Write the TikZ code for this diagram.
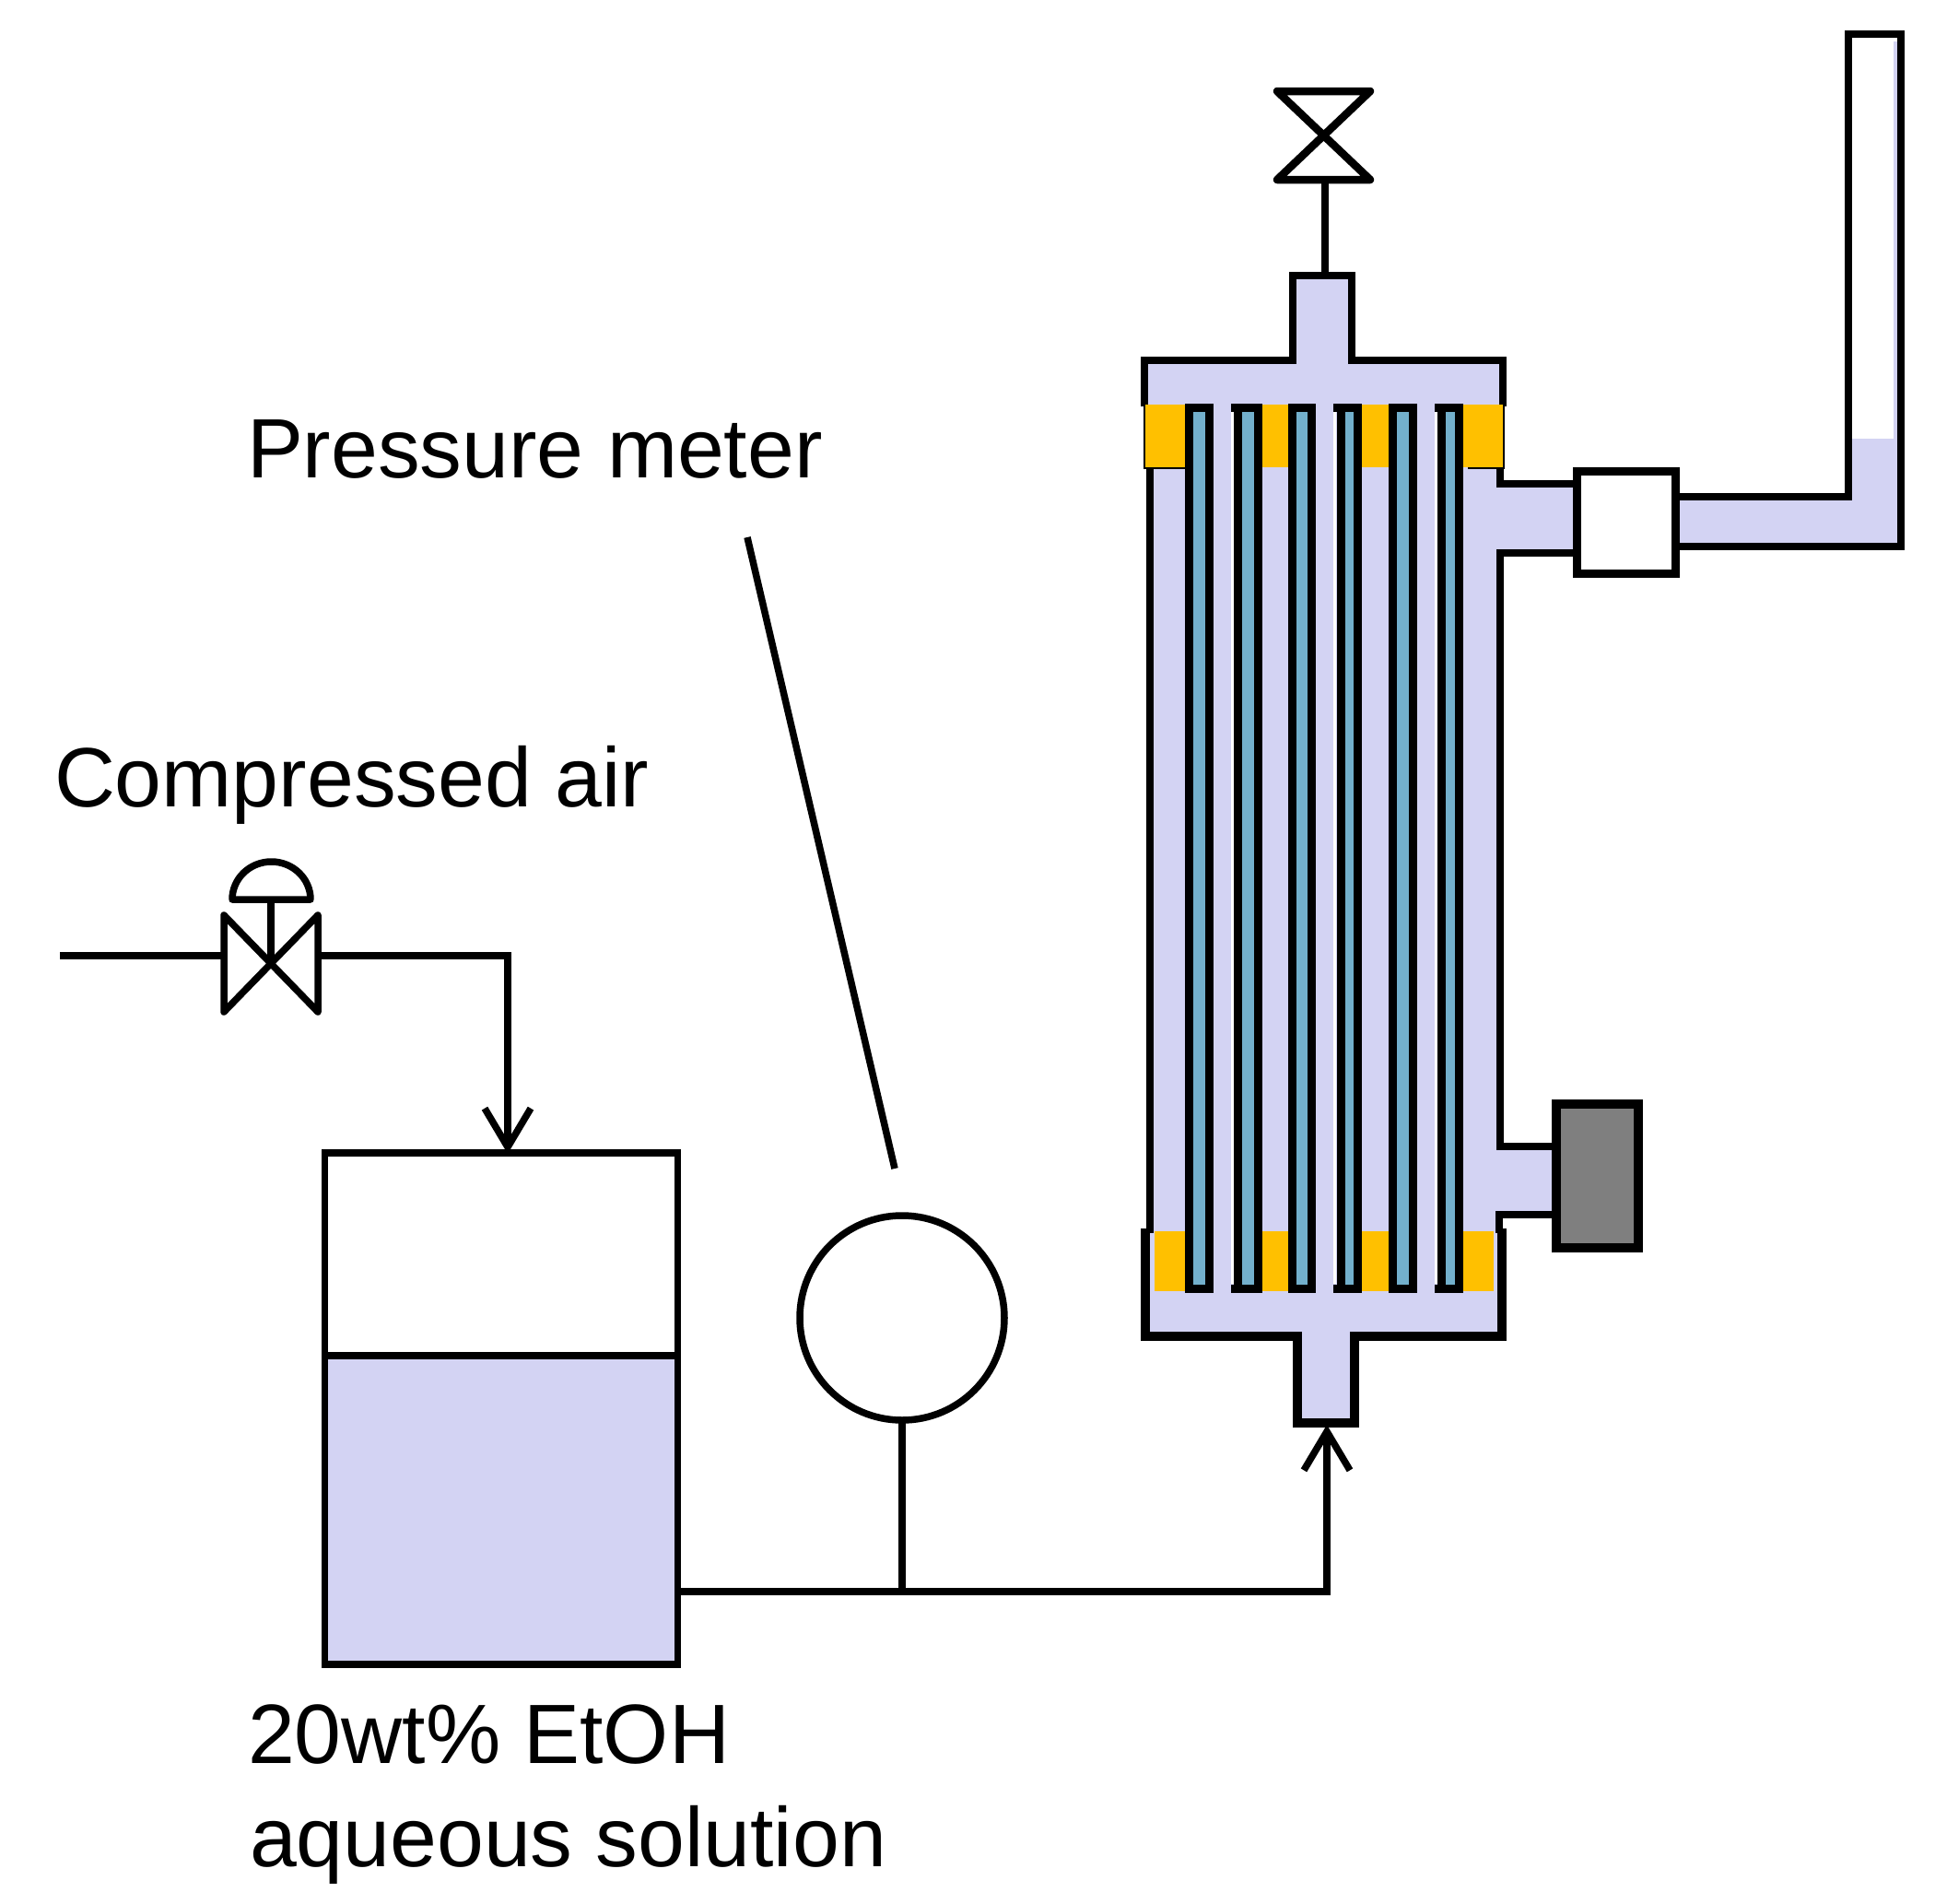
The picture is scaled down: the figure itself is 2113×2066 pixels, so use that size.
\documentclass[tikz,border=0pt]{standalone}
\usepackage{fontspec}
\setmainfont{Liberation Sans}
\usetikzlibrary{arrows.meta,calc}
\definecolor{liq}{HTML}{D3D3F3}
\definecolor{tubeblue}{HTML}{73B0CC}
\definecolor{seal}{HTML}{FFC000}
\definecolor{plug}{HTML}{7F7F7F}
\tikzset{
  x=1pt,y=-1pt,
  wall/.style={draw=black,line width=8.5pt,line join=miter,line cap=butt},
  pipe/.style={draw=black,line width=7.5pt,line join=miter},
  flow/.style={pipe,-{Straight Barb[length=42pt,width=50pt,line width=7.5pt]}},
  label/.style={anchor=base west,inner sep=0pt,outer sep=0pt,font=\fontsize{91.4}{91.4}\selectfont,text=black},
  box/.style={draw=black,line width=8.5pt,inner sep=0pt,outer sep=0pt,anchor=center},
}
\newcommand{\tube}[2]{%
  \fill[tubeblue] (#1,442) rectangle (#2,1398);
  \draw[line width=9pt,draw=black,line join=miter] (#1,1398) -- (#1,442) -- (#2,442) -- (#2,1398) -- cycle;
}
\begin{document}
\begin{tikzpicture}
\useasboundingbox (0,0) rectangle (2113,2066);
\begin{scope}[xshift=-3pt]
% membrane module body
\fill[liq] (1245,391) -- (1406,391) -- (1406,299) -- (1470,299) -- (1470,391) -- (1634,391) -- (1634,505) -- (1631,505) -- (1631,525) -- (1716,525) -- (1716,600) -- (1631,600) -- (1631,1244) -- (1696,1244) -- (1696,1318) -- (1630,1318) -- (1630,1336) -- (1633,1336) -- (1633,1450) -- (1473,1450) -- (1473,1544) -- (1411,1544) -- (1411,1450) -- (1246,1450) -- (1246,1336) -- (1251,1336) -- (1251,505) -- (1245,505) -- cycle;
% white slits
\fill[white] (1339,446) rectangle (1341.5,1393);
\fill[white] (1450,446) rectangle (1452.5,1393);
\fill[white] (1560,446) rectangle (1562.5,1393);
% module walls
\draw[wall] (1245,441) -- (1245,391) -- (1406,391) -- (1406,299) -- (1470,299) -- (1470,391) -- (1634,391) -- (1634,441);
\draw[wall] (1251,505) -- (1251,1338);
\draw[wall] (1631,505) -- (1631,525) -- (1720,525);
\draw[wall] (1720,600) -- (1631,600) -- (1631,1244) -- (1696,1244);
\draw[wall] (1696,1318) -- (1630,1318) -- (1630,1338);
\draw[wall,line width=9.5pt] (1246,1333) -- (1246,1450) -- (1411,1450) -- (1411,1544) -- (1473,1544) -- (1473,1450) -- (1633,1450) -- (1633,1333);
% sealing
\fill[black] (1243.5,439) rectangle (1289,509);
\fill[black] (1596,439) rectangle (1636,509);
\fill[seal] (1245.5,439) rectangle (1289,507);
\fill[seal] (1373,439) rectangle (1401,507);
\fill[seal] (1481,439) rectangle (1510,507);
\fill[seal] (1591,439) rectangle (1634,507);
\fill[seal] (1256,1336) rectangle (1289,1401);
\fill[seal] (1373,1336) rectangle (1401,1401);
\fill[seal] (1481,1336) rectangle (1510,1401);
\fill[seal] (1591,1336) rectangle (1624,1401);
% tubes
\tube{1293.5}{1315.5}
\tube{1346.5}{1368.5}
\tube{1405.5}{1426.5}
\tube{1458.5}{1476.5}
\tube{1514.5}{1536.5}
\tube{1567.5}{1586.5}
% caps that stand out on the left
\fill[black] (1339,437.5) rectangle (1346,446.5);
\fill[black] (1450,437.5) rectangle (1458,446.5);
\fill[black] (1560,437.5) rectangle (1567,446.5);
\fill[black] (1339,1393.5) rectangle (1346,1402.5);
\fill[black] (1450,1393.5) rectangle (1458,1402.5);
\fill[black] (1560,1393.5) rectangle (1567,1402.5);
% manometer
\fill[liq] (1815,539) rectangle (2009,593);
\fill[liq] (2005,476) rectangle (2066,593);
\fill[liq] (2058,45) rectangle (2062,476);
\draw[wall] (1815,539) -- (2009,539) -- (2009,37) -- (2066,37) -- (2066,593) -- (1815,593);
% instruments
\node[box,fill=white,minimum width=107pt,minimum height=111pt] (coupling) at (1768,567) {};
\node[box,fill=plug,line width=10pt,minimum width=89pt,minimum height=156pt] (plugbox) at (1736.5,1276) {};
% top valve
\coordinate (vtopb) at (1441,195);
\coordinate (necktop) at (1441,295);
\draw[wall,line join=round] (1389,99) -- (1490,99) -- (1389,195) -- (1490,195) -- cycle;
\draw[pipe] (vtopb) -- (necktop);
\end{scope}
% feed tank
\fill[liq] (352.5,1471) rectangle (735.5,1806);
\node[box,line width=7.5pt,minimum width=383pt,minimum height=555pt] (tank) at (544,1528.5) {};
\coordinate (tankliq) at (352.5,1471);
\draw[line width=7.5pt] (tankliq) -- (tankliq -| tank.east);
% pressure meter
\node[box,line width=7.5pt,circle,minimum size=222pt] (gauge) at (979,1430) {};
\coordinate (junction) at (979,1727);
\coordinate (inlet) at (1440,1546);
\coordinate (tankout) at (735.5,1727);
\draw[pipe] (gauge.south) -- (junction);
\draw[flow] (tankout) -- (junction) -| (inlet);
\coordinate (leadtop) at (811,583);
\coordinate (leadend) at (971,1268);
\draw[pipe] (leadtop) -- (leadend);
% air valve
\coordinate (airin) at (65,1037);
\coordinate (vl) at (242,1037);
\coordinate (vr) at (346,1037);
\coordinate (vc) at (294,1044);
\draw[pipe] (airin) -- (vl);
\draw[pipe,line join=round] (243,993) -- (345,1098) -- (345,993) -- (243,1098) -- cycle;
\draw[pipe] (vc) -- (294,976);
\draw[pipe,line join=round] (252,976) -- (337,976) arc[start angle=0,end angle=-180,x radius=42.5pt,y radius=-41pt] -- cycle;
\coordinate (tanktop) at (551,1252);
\draw[flow] (vr) -- (551,1037) -- (tanktop);
% labels
\node[label] (lpm) at (268,518) {Pressure meter};
\node[label] (lair) at (59,875) {Compressed air};
\node[label] (lsol1) at (269,1913) {20wt\% EtOH};
\node[label] (lsol2) at (271,2025) {aqueous solution};
\end{tikzpicture}
\end{document}
